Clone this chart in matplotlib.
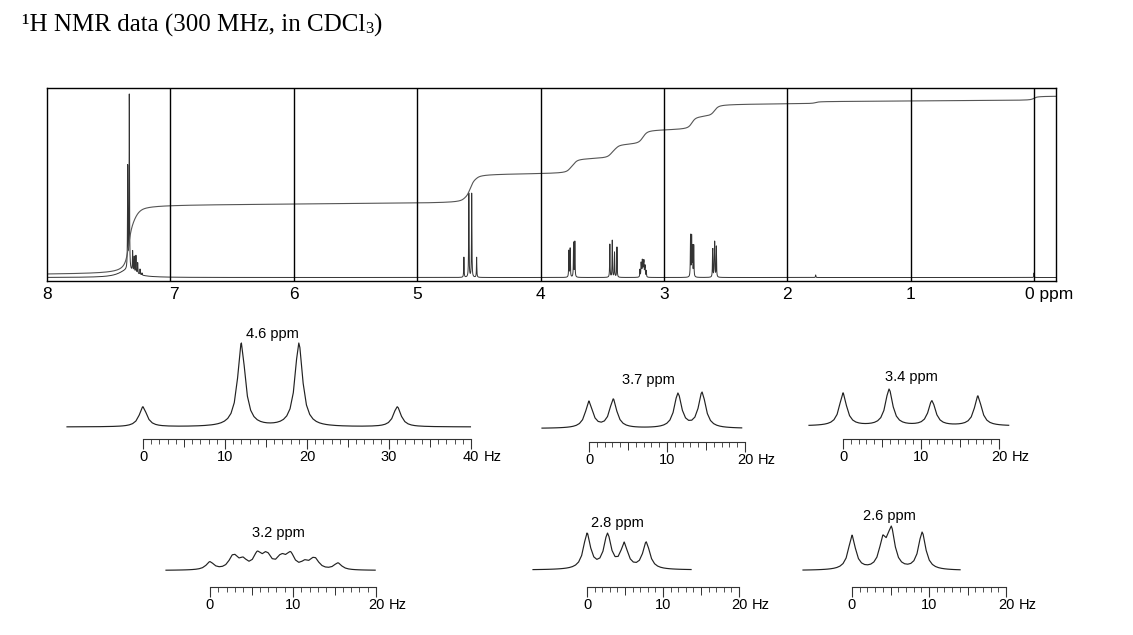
import numpy as np
import matplotlib.pyplot as plt
from matplotlib.transforms import ScaledTranslation

plt.rcParams['font.family'] = ['Liberation Sans', 'DejaVu Sans']

W, H = 1133, 635
MHZ = 300.0          # spectrometer frequency
HWHM_HZ = 0.55       # line half width (Hz)
W_INT = 0.02         # smoothing of the integral trace (ppm)
DIG_HZ = 0.4         # digital resolution of the expansions

# multiplets: ppm of the first line, line offsets (Hz), relative intensities,
# tallest line in the full spectrum, integral step
m46_ppm, m46_hz, m46_int, m46_main, m46_step = 4.621, [0, 12, 19, 31], [0.24, 1.0, 1.0, 0.24], 0.463, 0.159
m37_ppm, m37_hz, m37_int, m37_main, m37_step = 3.770, [0, 3.1, 11.4, 14.5], [0.75, 0.81, 0.97, 1.0], 0.200, 0.082
m34_ppm, m34_hz, m34_int, m34_main, m34_step = 3.438, [0, 5.9, 11.4, 17.3], [0.90, 1.0, 0.68, 0.82], 0.205, 0.079
m32_ppm = 3.194
m32_hz = [0, 2.65, 3.0, 4.0, 5.65, 5.75, 6.65, 7.0, 8.4, 8.8, 9.65, 9.75, 11.4, 12.4, 12.75, 15.4]
m32_int = [1.1, 1.05, 1.05, 1.15, 1.0, 1.0, 1.05, 1.05, 0.9, 0.9, 1.0, 1.0, 0.85, 0.85, 0.85, 0.95]
m32_main, m32_step = 0.101, 0.079
m28_ppm, m28_hz, m28_int, m28_main, m28_step = 2.784, [0, 2.7, 4.9, 7.8], [1.0, 0.96, 0.70, 0.76], 0.238, 0.074
m26_ppm, m26_hz, m26_int, m26_main, m26_step = 2.605, [0, 4.0, 5.1, 9.1], [0.90, 0.70, 1.0, 0.98], 0.200, 0.066

# aromatic region (ppm, height) and its broad foot
ph_ppm = [7.346, 7.333, 7.306, 7.293, 7.279, 7.265, 7.246, 7.230]
ph_h = [0.56, 0.96, 0.11, 0.085, 0.095, 0.06, 0.03, 0.012]
ph_step = 0.381
ph_foot_ppm, ph_foot_h, ph_foot_w = 7.35, 0.04, 0.08

# small singlets (impurity, TMS)
minor_ppm = [1.77, 0.0]
minor_h = [0.014, 0.025]
minor_step = [0.011, 0.022]

int_start = 0.015
int_drift = 0.0033   # per ppm

multiplets = [
    (m46_ppm, m46_hz, m46_int, m46_main, m46_step),
    (m37_ppm, m37_hz, m37_int, m37_main, m37_step),
    (m34_ppm, m34_hz, m34_int, m34_main, m34_step),
    (m32_ppm, m32_hz, m32_int, m32_main, m32_step),
    (m28_ppm, m28_hz, m28_int, m28_main, m28_step),
    (m26_ppm, m26_hz, m26_int, m26_main, m26_step),
]


def lorentz(x, x0, w):
    return 1.0 / (1.0 + ((x - x0) / w) ** 2)


def lines_sum(x, pos, amp, w):
    y = np.zeros_like(x)
    for p, a in zip(pos, amp):
        y += a * lorentz(x, p, w)
    return y


def step_curve(x, pos, amp):
    amp = np.asarray(amp, float)
    c = np.zeros_like(x)
    for p, a in zip(pos, amp):
        c += a * (0.5 + np.arctan((p - x) / W_INT) / np.pi)
    return c / amp.sum()


fig = plt.figure(figsize=(W / 100, H / 100), dpi=100)

# ---------------- full spectrum ----------------
px_ppm = (1034 - 47) / 8.0
ax = fig.add_axes([47 / W, 1 - 281 / H, (1056 - 47) / W, (281 - 88) / H])
x_right = 8 - (1056 - 47) / px_ppm
ppm = np.linspace(8.0, x_right, 26000)
w_ppm = HWHM_HZ / MHZ

spec = lines_sum(ppm, ph_ppm, ph_h, w_ppm)
spec += ph_foot_h * lorentz(ppm, ph_foot_ppm, ph_foot_w)
spec += lines_sum(ppm, minor_ppm, minor_h, w_ppm)
integ = int_start + int_drift * (8 - ppm) + ph_step * step_curve(ppm, ph_ppm, ph_h)
for p, s in zip(minor_ppm, minor_step):
    integ += s * step_curve(ppm, [p], [1.0])
for p0, hz, ints, hmain, st in multiplets:
    pos = [p0 - h / MHZ for h in hz]
    sub = lines_sum(ppm, pos, ints, w_ppm)
    spec += sub * hmain / sub.max()
    integ += st * step_curve(ppm, pos, ints)

ax.plot(ppm, spec, color='#333333', lw=0.7)
ax.plot(ppm, integ, color='#555555', lw=0.8)
for v in range(7, -1, -1):
    ax.axvline(v, color='black', lw=1.0)

ax.set_xlim(8, x_right)
base_px, top_px = 277.5, 95
scale = base_px - top_px
ax.set_ylim(-(281 - base_px) / scale, (base_px - 88) / scale)
ax.set_yticks([])
ax.set_xticks(range(8, -1, -1))
ax.set_xticklabels(['8', '7', '6', '5', '4', '3', '2', '1', '0 ppm'])
ax.tick_params(axis='x', length=0, pad=4, labelsize=12.5)
for sp in ax.spines.values():
    sp.set_linewidth(1.0)
labs = ax.get_xticklabels()
labs[1].set_transform(labs[1].get_transform() + ScaledTranslation(4 / 100, 0, fig.dpi_scale_trans))
labs[-1].set_horizontalalignment('left')
labs[-1].set_transform(labs[-1].get_transform() + ScaledTranslation(-9 / 100, 0, fig.dpi_scale_trans))

# ---------------- expansions ----------------
# trace left/right px, zero px, px per Hz, ruler end (Hz), baseline px, top px, ruler px, title, title centre
insets = [
    (m46_hz, m46_int, 67, 472, 143, 8.2, 40, 427, 343, 439, '4.6 ppm', (272, 334)),
    (m37_hz, m37_int, 542, 742, 589, 7.8, 20, 428.5, 392, 442, '3.7 ppm', (648, 380)),
    (m34_hz, m34_int, 809, 1010, 843, 7.8, 20, 426, 389, 439, '3.4 ppm', (911, 377)),
    (m32_hz, m32_int, 166, 377, 210, 8.3, 20, 570.5, 551, 587, '3.2 ppm', (278, 533)),
    (m28_hz, m28_int, 533, 693, 587, 7.6, 20, 570, 533, 587, '2.8 ppm', (617, 523)),
    (m26_hz, m26_int, 803, 963, 852, 7.7, 20, 570.5, 526, 587, '2.6 ppm', (889, 516)),
]

for hz, ints, tl, tr, z, pxhz, rend, bpx, tpx, rpx, title, (tx, ty) in insets:
    left = min(tl, z)
    right = max(tr, z + rend * pxhz) + 3
    ia = fig.add_axes([left / W, 1 - rpx / H, (right - left) / W, (rpx - tpx) / H])
    f = np.union1d(np.arange((tl - z) / pxhz, (tr - z) / pxhz, DIG_HZ), hz)
    y = lines_sum(f, hz, ints, HWHM_HZ)
    m = y.max()
    ia.plot(f, y, color='#222222', lw=0.85, clip_on=False)
    ia.set_xlim((left - z) / pxhz, (right - z) / pxhz)
    sc = (bpx - tpx) / m
    ia.set_ylim(-(rpx - bpx) / sc, m)
    ia.set_yticks([])
    for s in ('top', 'left', 'right'):
        ia.spines[s].set_visible(False)
    ia.spines['bottom'].set_bounds(0, rend)
    ia.spines['bottom'].set_linewidth(0.8)
    ia.spines['bottom'].set_color('#333333')
    majors = list(range(0, rend + 1, 10))
    ia.set_xticks(majors)
    ia.set_xticklabels([str(v) for v in majors])
    ia.set_xticks(np.arange(0, rend + 1, 1), minor=True)
    ia.tick_params(axis='x', which='major', length=7.3, width=0.8, pad=0.5,
                   labelsize=10.5, color='#333333')
    ia.tick_params(axis='x', which='minor', length=3.6, width=0.6, color='#333333')
    sec = ia.secondary_xaxis('bottom')
    sec.set_xticks(list(range(5, rend, 10)))
    sec.tick_params(axis='x', length=5.4, width=0.7, labelbottom=False, color='#333333')
    sec.spines['bottom'].set_visible(False)
    ia.annotate('Hz', xy=(rend, 0), xycoords=('data', 'axes fraction'),
                xytext=(9.3, -7.8), textcoords='offset points',
                ha='left', va='top', fontsize=10.5)
    fig.text(tx / W, 1 - ty / H, title, ha='center', va='center', fontsize=10.5)

# title with superscript 1 and subscript 3
serif = dict(family='Liberation Serif')
t1 = fig.text(22 / W, 1 - 31.5 / H, '\u00b9H NMR data (300 MHz, in CDCl',
              fontsize=18, ha='left', va='baseline', **serif)
t2 = ax.annotate('3', xy=(1, 0), xycoords=t1, ha='left', va='bottom', fontsize=12, **serif)
ax.annotate(')', xy=(1, 0), xycoords=t2, ha='left', va='bottom', fontsize=18, **serif)

fig.savefig('out.png', dpi=100)
